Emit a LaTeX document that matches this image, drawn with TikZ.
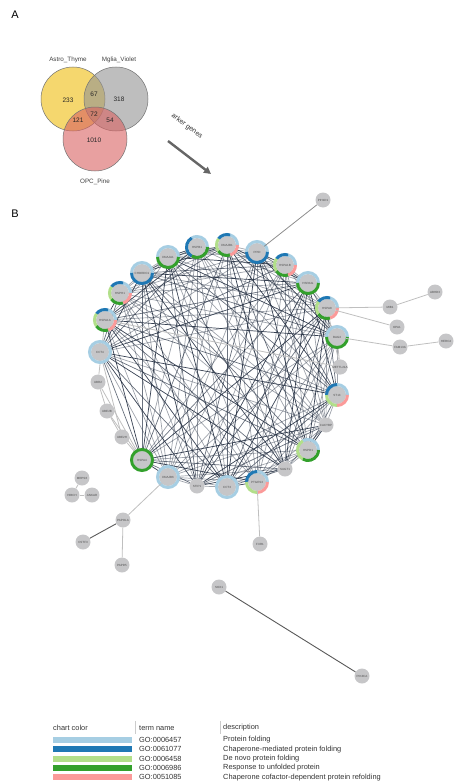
\documentclass[tikz,border=0pt]{standalone}
\usepackage{fontspec}
\setmainfont{Liberation Sans}
\usetikzlibrary{arrows.meta,backgrounds}
\definecolor{astroyellow}{RGB}{238,188,13}
\definecolor{mgliagray}{RGB}{147,147,147}
\definecolor{opcpink}{RGB}{217,97,97}
\definecolor{ringlb}{RGB}{166,206,227}
\definecolor{ringdb}{RGB}{31,120,180}
\definecolor{ringlg}{RGB}{178,223,138}
\definecolor{ringg}{RGB}{51,160,44}
\definecolor{ringpk}{RGB}{251,154,153}
\definecolor{nodegray}{RGB}{198,198,200}
\definecolor{linkdark}{RGB}{43,54,72}
\newcommand{\ringnode}[4]{%
  \node[hubnode] (#1) at #2 {#3};
  \foreach \c [count=\n] in {#4} {\xdef\nseg{\n}}
  \foreach \c [count=\k] in {#4} {
    \pgfmathsetmacro\sa{-(\k-1)*360/\nseg}
    \pgfmathsetmacro\ea{-\k*360/\nseg}
    \draw[\c, line width=3pt] #2 ++(\sa:10.5) arc[start angle=\sa, end angle=\ea, radius=10.5];
  }
}
\newcommand{\hubnames}{cct4,hspa1a,hsph1,chordc1,dnaja1,hspb1,dnajb1,ppid,hspa1b,hspa4l,hspa8,bag3,st13,cacybp,hspd1,sugt1,ptges3,cct3,stip1,dnajb6,hspa4}

\begin{document}
\begin{tikzpicture}[x=1pt, y=-1pt,
  panelletter/.style={font=\fontsize{11}{12}\selectfont},
  vennset/.style={draw=black!55, line width=0.5pt, fill opacity=0.6},
  vennlabel/.style={font=\fontsize{6.3}{7}\selectfont, text=black!75},
  vennnum/.style={font=\fontsize{6.5}{7}\selectfont, text=black!85},
  hubnode/.style={circle, fill=nodegray, minimum size=18pt, inner sep=0pt, font=\fontsize{3}{3}\selectfont, text=black!70},
  genenode/.style={circle, fill=nodegray, minimum size=15pt, inner sep=0pt, font=\fontsize{3}{3}\selectfont, text=black!70},
  linkline/.style={linkdark, line width=0.7pt},
  sidelink/.style={black!25, line width=0.8pt},
  darklink/.style={black!65, line width=0.9pt},
  legtext/.style={font=\fontsize{7.4}{8}\selectfont, text=black!80, anchor=west, inner sep=0pt},
  legbar/.style={minimum width=79pt, minimum height=6pt, inner sep=0pt, anchor=west}
]
\useasboundingbox (0,0) rectangle (474,784);

% panel A
\node[panelletter] (labA) at (15,15) {A};
\draw[vennset, fill=astroyellow] (73,99) circle[radius=32];
\draw[vennset, fill=mgliagray] (116,99) circle[radius=32];
\draw[vennset, fill=opcpink] (95,139) circle[radius=32];
\node[vennlabel] (astro) at (68,60) {Astro\_Thyme};
\node[vennlabel] (mglia) at (119,60) {Mglia\_Violet};
\node[vennlabel] (opc) at (95,182) {OPC\_Pine};
\node[vennnum] (n233) at (68,100) {233};
\node[vennnum] (n67) at (94,94) {67};
\node[vennnum] (n318) at (119,99) {318};
\node[vennnum] (n72) at (94,114) {72};
\node[vennnum] (n121) at (78,120) {121};
\node[vennnum] (n54) at (110,120) {54};
\node[vennnum] (n1010) at (94,140) {1010};
\node[rotate=-37, font=\fontsize{7}{8}\selectfont, text=black!80] (markertxt) at (187,126) {arker genes};
\coordinate (arrowtail) at (168,141);
\coordinate (arrowhead) at (211,174);
\draw[-{Triangle[length=7pt,width=7pt]}, line width=2.4pt, black!60] (arrowtail) -- (arrowhead);

% panel B
\node[panelletter] (labB) at (15,214) {B};
\ringnode{cct4}{(100,352)}{CCT4}{ringlb}
\ringnode{hspa1a}{(105,320)}{HSPA1A}{ringlb,ringdb,ringlg,ringg,ringpk}
\ringnode{hsph1}{(120,293)}{HSPH1}{ringlb,ringdb,ringlg,ringg,ringpk}
\ringnode{chordc1}{(142,273)}{CHORDC1}{ringlb,ringdb}
\ringnode{dnaja1}{(168,257)}{DNAJA1}{ringlb,ringg}
\ringnode{hspb1}{(197,247)}{HSPB1}{ringlb,ringdb,ringg}
\ringnode{dnajb1}{(227,245)}{DNAJB1}{ringlb,ringdb,ringlg,ringg,ringpk}
\ringnode{ppid}{(257,252)}{PPID}{ringlb,ringdb}
\ringnode{hspa1b}{(285,265)}{HSPA1B}{ringlb,ringdb,ringlg,ringg,ringpk}
\ringnode{hspa4l}{(308,283)}{HSPA4L}{ringlb,ringg}
\ringnode{hspa8}{(327,308)}{HSPA8}{ringlb,ringdb,ringlg,ringg,ringpk}
\ringnode{bag3}{(337,337)}{BAG3}{ringlb,ringg}
\node[genenode] (mettl) at (340,367) {METTL21A};
\ringnode{st13}{(337,395)}{ST13}{ringlb,ringdb,ringlg,ringpk}
\node[genenode] (cacybp) at (326,425) {CACYBP};
\ringnode{hspd1}{(308,450)}{HSPD1}{ringlb,ringlg,ringg}
\node[genenode] (sugt1) at (285,469) {SUGT1};
\ringnode{ptges3}{(257,482)}{PTGES3}{ringlb,ringdb,ringlg,ringpk}
\ringnode{cct3}{(227,487)}{CCT3}{ringlb}
\node[genenode] (stip1) at (197,486) {STIP1};
\ringnode{dnajb6}{(168,477)}{DNAJB6}{ringlb}
\ringnode{hspa4}{(142,460)}{HSPA4}{ringg}
\node[genenode] (ube2h) at (122,437) {UBE2H};
\node[genenode] (ube2b) at (107,411) {UBE2B};
\node[genenode] (ubr2) at (98,382) {UBR2};

\node[genenode] (pih1d1) at (323,200) {PIH1D1};
\node[genenode] (mib1) at (390,307) {MIB1};
\node[genenode] (abhd3) at (435,292) {ABHD3};
\node[genenode] (opa1) at (397,327) {OPA1};
\node[genenode] (fam13a) at (400,347) {FAM13A};
\node[genenode] (herc4) at (446,341) {HERC4};
\node[genenode] (fxr1) at (260,544) {FXR1};
\node[genenode] (mrps6) at (82,478) {MRPS6};
\node[genenode] (hibch) at (72,495) {HIBCH};
\node[genenode] (ankar) at (92,495) {ANKAR};
\node[genenode] (papola) at (123,520) {PAPOLA};
\node[genenode] (cstf3) at (83,542) {CSTF3};
\node[genenode] (papd5) at (122,565) {PAPD5};
\node[genenode] (sox1) at (219,587) {SOX1};
\node[genenode] (pik3ca) at (362,676) {PIK3CA};

\begin{scope}[on background layer]
\foreach \a [count=\i] in \hubnames {
  \foreach \b [count=\j] in \hubnames {
    \ifnum\j>\i\relax
      \pgfmathtruncatemacro\keep{mod(\i+2*\j,5)}
      \pgfmathsetmacro\op{0.45+0.25*mod(\i*\j+\i,3)}
      \ifnum\keep>0\relax
        \draw[linkline, draw opacity=\op] (\a) -- (\b);
      \fi
    \fi
  }
}
\foreach \a/\b in {mettl/hspa8, mettl/hspa1a, mettl/bag3, ubr2/ube2b, ube2b/ube2h, ubr2/hspa4, ube2b/hspa4, ube2h/hspa4, ube2h/cct4, ubr2/hspa1a} {
  \draw[sidelink] (\a) -- (\b);
}
\end{scope}
\draw[black!45, line width=0.8pt] (ppid) -- (pih1d1);
\draw[sidelink] (hspa8) -- (mib1);
\draw[sidelink] (hspa8) -- (opa1);
\draw[sidelink] (mib1) -- (abhd3);
\draw[sidelink] (bag3) -- (fam13a);
\draw[sidelink] (fam13a) -- (herc4);
\draw[sidelink] (ptges3) -- (fxr1);
\draw[sidelink] (mrps6) -- (hibch);
\draw[sidelink] (hibch) -- (ankar);
\draw[sidelink] (dnajb6) -- (papola);
\draw[sidelink] (papola) -- (papd5);
\draw[darklink] (papola) -- (cstf3);
\draw[darklink] (sox1) -- (pik3ca);

% legend
\node[legtext] (hdcolor) at (53,728) {chart color};
\node[legtext] (hdterm) at (139,728) {term name};
\node[legtext] (hddesc) at (223,728) {description};
\draw[black!20, line width=0.5pt] (hdterm.west) ++(-4,-7) -- ++(0,13);
\draw[black!20, line width=0.5pt] (hddesc.west) ++(-3,-7) -- ++(0,13);
\node[legbar, fill=ringlb] (barlb) at (53,740) {};
\node[legtext] (golb) at (139,740) {GO:0006457};
\node[legtext] (dslb) at (223,740) {Protein folding};
\node[legbar, fill=ringdb] (bardb) at (53,749.3) {};
\node[legtext] (godb) at (139,749.3) {GO:0061077};
\node[legtext] (dsdb) at (223,749.3) {Chaperone-mediated protein folding};
\node[legbar, fill=ringlg] (barlg) at (53,758.6) {};
\node[legtext] (golg) at (139,758.6) {GO:0006458};
\node[legtext] (dslg) at (223,758.6) {De novo protein folding};
\node[legbar, fill=ringg] (barg) at (53,768) {};
\node[legtext] (gog) at (139,768) {GO:0006986};
\node[legtext] (dsg) at (223,768) {Response to unfolded protein};
\node[legbar, fill=ringpk] (barpk) at (53,777.3) {};
\node[legtext] (gopk) at (139,777.3) {GO:0051085};
\node[legtext] (dspk) at (223,777.3) {Chaperone cofactor-dependent protein refolding};
\end{tikzpicture}
\end{document}
